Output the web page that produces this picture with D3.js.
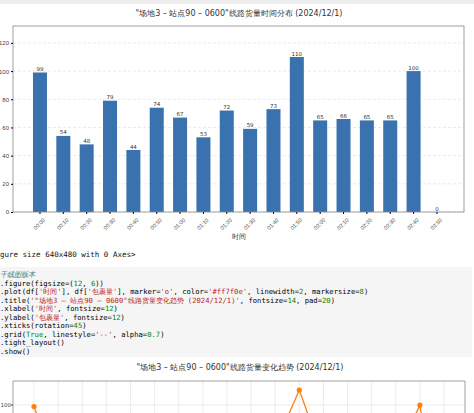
<!DOCTYPE html>
<html><head><meta charset="utf-8">
<script src="https://cdn.jsdelivr.net/npm/d3@7"></script>
<style>body{margin:0;background:#fff;overflow:hidden}</style>
</head><body><svg id="c" width="474" height="413"></svg>
<script>
const categories=["00:00","00:10","00:20","00:30","00:40","00:50","01:00","01:10","01:20","01:30","01:40","01:50","02:00","02:10","02:20","02:30","02:40","02:50"];
const values=[99,54,48,79,44,74,67,53,72,59,73,110,65,66,65,65,100,0];
const yTicks=[0,20,40,60,80,100,120];
const title1='"场地3 – 站点90 – 0600"线路货量时间分布 (2024/12/1)';
const title2='"场地3 – 站点90 – 0600"线路货量变化趋势 (2024/12/1)';
const outText='gure size 640x480 with 0 Axes>';
const codeLines=[
 [["千线图版本","#3f7f7f","italic"]],
 [[".figure(figsize=(","#000"],["12","#080"],[", ","#000"],["6","#080"],["))","#000"]],
 [[".plot(df[","#000"],["'时间'","#b22"],["], df[","#000"],["'包裹量'","#b22"],["], marker=","#000"],["'o'","#b22"],[", color=","#000"],["'#ff7f0e'","#b22"],[", linewidth=","#000"],["2","#080"],[", markersize=","#000"],["8","#080"],[")","#000"]],
 [[".title(","#000"],["'\"场地3 – 站点90 – 0600\"线路货量变化趋势 (2024/12/1)'","#b22"],[", fontsize=","#000"],["14","#080"],[", pad=","#000"],["20","#080"],[")","#000"]],
 [[".xlabel(","#000"],["'时间'","#b22"],[", fontsize=","#000"],["12","#080"],[")","#000"]],
 [[".ylabel(","#000"],["'包裹量'","#b22"],[", fontsize=","#000"],["12","#080"],[")","#000"]],
 [[".xticks(rotation=","#000"],["45","#080"],[")","#000"]],
 [[".grid(","#000"],["True","#080"],[", linestyle=","#000"],["'--'","#b22"],[", alpha=","#000"],["0.7","#080"],[")","#000"]],
 [[".tight_layout()","#000"]],
 [[".show()","#000"]]
];
const svg=d3.select("#c");
const F="'DejaVu Sans',sans-serif";
svg.append("rect").attr("x",0).attr("y",0).attr("width",474).attr("height",4).attr("fill","#eee");
// chart 1
const x=d3.scaleBand().domain(categories).range([28.3,448.6]).paddingInner(0.4).paddingOuter(0.2);
const y=d3.scaleLinear().domain([0,132]).range([212,26]);
const g=svg.append("g");
g.selectAll("line.g").data(yTicks).join("line").attr("x1",13).attr("x2",464).attr("y1",d=>y(d)).attr("y2",d=>y(d)).attr("stroke","#ddd").attr("stroke-dasharray","3,2").attr("stroke-width",0.6);
g.selectAll("rect.b").data(values).join("rect").attr("x",(d,i)=>x(categories[i])).attr("width",x.bandwidth()).attr("y",d=>y(d)).attr("height",d=>212-y(d)).attr("fill","#3a72b0");
g.selectAll("text.v").data(values).join("text").attr("x",(d,i)=>x(categories[i])+x.bandwidth()/2).attr("y",d=>y(d)-1.5).attr("text-anchor","middle").attr("font-size",5.5).attr("font-family",F).attr("fill","#333").text(d=>d);
g.append("rect").attr("x",13).attr("y",26).attr("width",451).attr("height",186).attr("fill","none").attr("stroke","#888").attr("stroke-width",0.8);
const ya=g.append("g").attr("transform","translate(13,0)").call(d3.axisLeft(y).tickValues(yTicks).tickSize(2).tickPadding(2));
ya.select(".domain").remove();ya.selectAll("text").attr("font-size",6).attr("fill","#444");
const xa=g.append("g").attr("transform","translate(0,212)").call(d3.axisBottom(x).tickSize(2));
xa.select(".domain").remove();
xa.selectAll("text").attr("font-size",5.5).attr("fill","#444").attr("text-anchor","end").attr("dy",0).attr("dx",0).attr("transform","translate(2,5) rotate(-45)");
g.append("text").attr("x",239).attr("y",239).attr("text-anchor","middle").attr("font-size",7).attr("font-family",F).attr("fill","#333").text("时间");
svg.append("text").attr("x",239).attr("y",16).attr("text-anchor","middle").attr("font-size",8).attr("font-family",F).attr("fill","#333").text(title1);
// text output
svg.append("text").attr("x",0).attr("y",257).attr("font-size",7.5).attr("font-family","'DejaVu Sans Mono',monospace").attr("fill","#111").text(outText);
// code cell
svg.append("rect").attr("x",0).attr("y",267).attr("width",472).attr("height",90).attr("fill","#f5f5f5");
codeLines.forEach((ln,i)=>{const t=svg.append("text").attr("x",0).attr("y",277+i*8.5).attr("font-size",7.2).attr("font-family","'DejaVu Sans Mono',monospace");
 ln.forEach(s=>t.append("tspan").attr("fill",s[1]).attr("font-style",s[2]||"normal").text(s[0]));});
// chart 2
svg.append("text").attr("x",240).attr("y",370).attr("text-anchor","middle").attr("font-size",8).attr("font-family",F).attr("fill","#333").text(title2);
const x2=d3.scalePoint().domain(categories).range([34,444]);
const y2=d3.scaleLinear().domain([0,110]).range([555,390]);
const g2=svg.append("g");
g2.selectAll("line.vg").data(categories).join("line").attr("x1",d=>x2(d)).attr("x2",d=>x2(d)).attr("y1",381).attr("y2",413).attr("stroke","#e4e4e4").attr("stroke-width",0.7);
g2.append("line").attr("x1",13).attr("x2",465).attr("y1",y2(100)).attr("y2",y2(100)).attr("stroke","#e4e4e4").attr("stroke-width",0.7);
g2.append("path").datum(values).attr("d",d3.line().x((d,i)=>x2(categories[i])).y(d=>y2(d))).attr("fill","none").attr("stroke","#ff7f0e").attr("stroke-width",1.3);
g2.selectAll("circle").data(values).join("circle").attr("cx",(d,i)=>x2(categories[i])).attr("cy",d=>y2(d)).attr("r",2.6).attr("fill","#ff7f0e");
g2.append("path").attr("d","M13,413V381H465V413").attr("fill","none").attr("stroke","#888").attr("stroke-width",0.8);
g2.append("text").attr("x",11).attr("y",y2(100)+2).attr("text-anchor","end").attr("font-size",5.5).attr("font-family",F).attr("fill","#444").text("100");
g2.append("line").attr("x1",11).attr("x2",13).attr("y1",y2(100)).attr("y2",y2(100)).attr("stroke","#444");
</script></body></html>
